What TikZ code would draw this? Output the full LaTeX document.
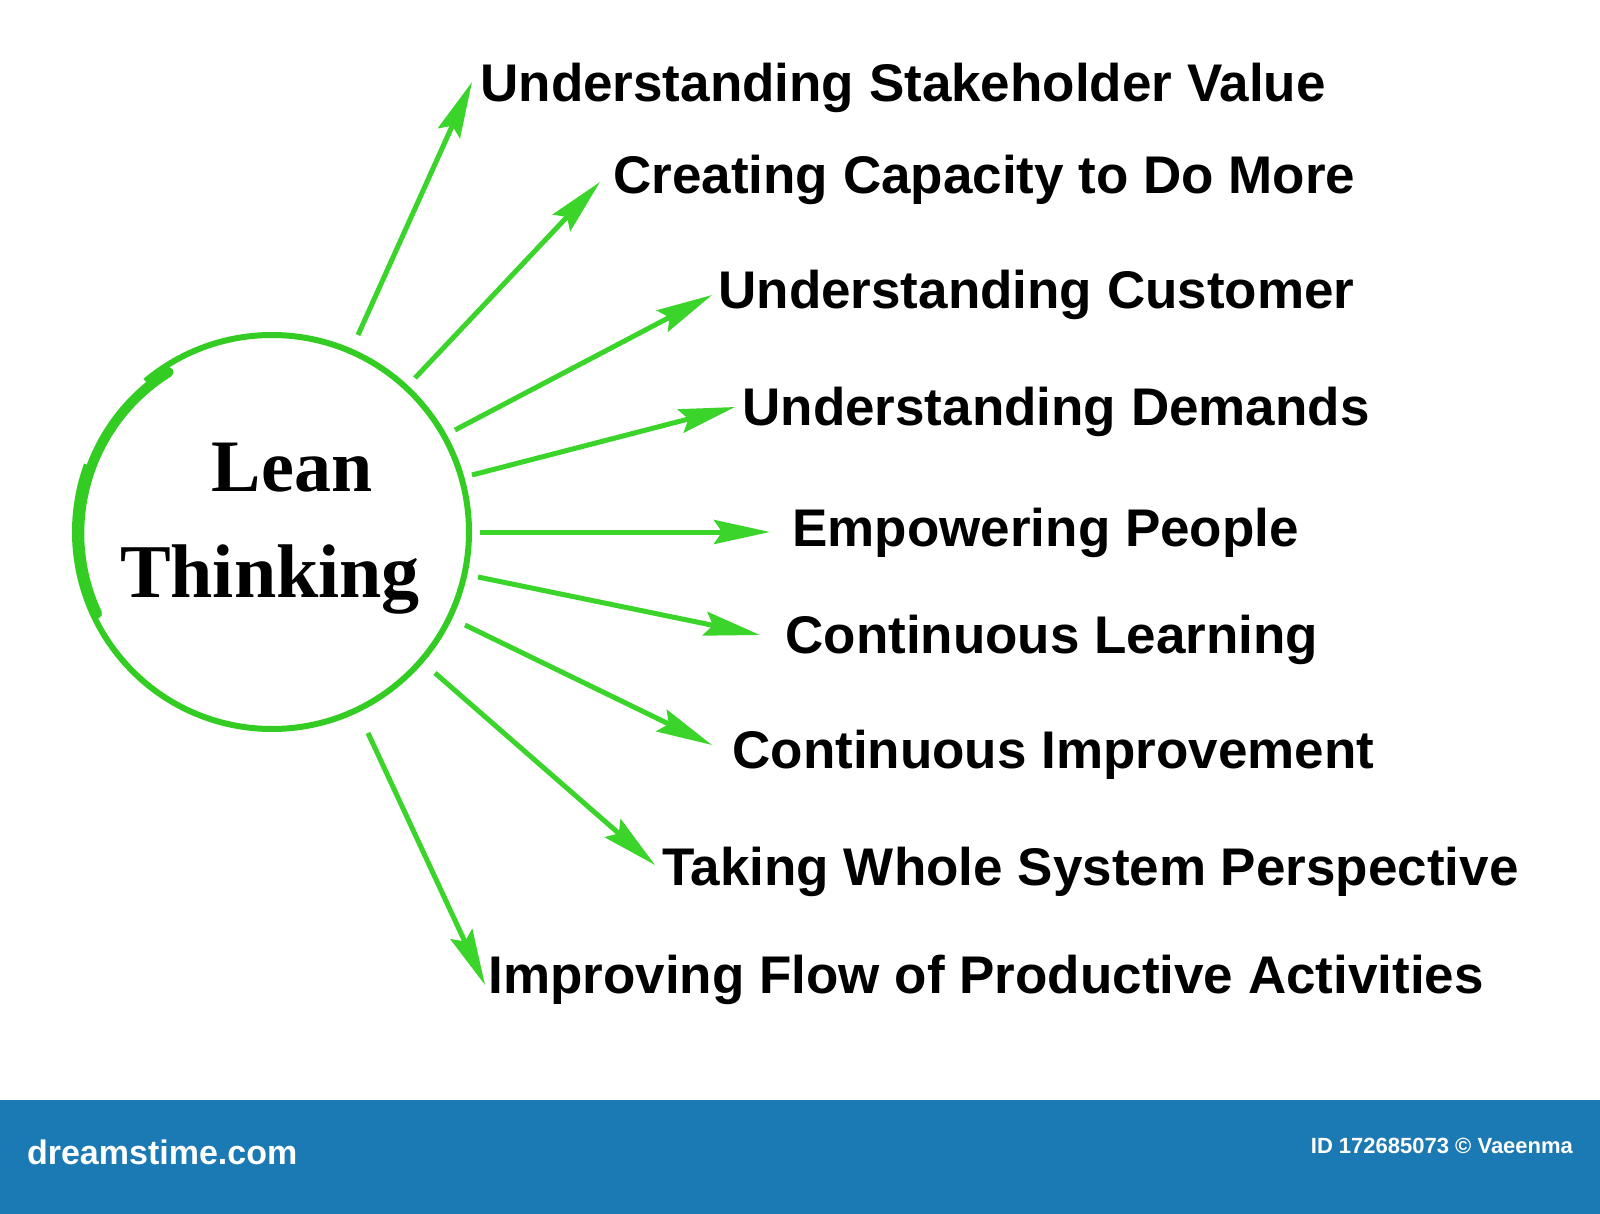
\documentclass[tikz,border=0pt]{standalone}
\usepackage{fontspec}
\setmainfont{Liberation Sans}
\newfontfamily\serifb{Liberation Serif}
\usetikzlibrary{arrows.meta}
\definecolor{lg}{HTML}{33CC22}
\definecolor{ag}{HTML}{3AD42A}
\definecolor{barblue}{HTML}{1B79B3}
\tikzset{
 arr/.style={draw=ag,line width=2.5pt,-{Stealth[length=28pt,width=12pt,inset=4pt]}},
 lbl/.style={anchor=west,inner sep=0pt,font=\fontsize{26.5}{30}\selectfont\bfseries}
}
\begin{document}
\begin{tikzpicture}[x=0.5pt,y=-0.5pt]
\useasboundingbox (0,0) rectangle (1600,1214);
\fill[white] (0,0) rectangle (1600,1214);
% circle
\coordinate (c) at (272,532);
\draw[lg,line width=3pt] (c) ++(-130:197) arc[start angle=-130,end angle=200,radius=197];
\draw[lg,line width=5pt,line cap=round] (c) ++(155:193) arc[start angle=155,end angle=238,radius=190];
\node[font=\serifb\fontsize{37}{40}\selectfont\bfseries] (lean) at (292,468) {Lean};
\node[font=\serifb\fontsize{38}{40}\selectfont\bfseries] (think) at (270,580) {Thinking};
% labels
\node[lbl] (t1) at (480,88) {Understanding Stakeholder Value};
\node[lbl] (t2) at (613,180) {Creating Capacity to Do More};
\node[lbl] (t3) at (718,295) {Understanding Customer};
\node[lbl] (t4) at (742,412) {Understanding Demands};
\node[lbl] (t5) at (792,533) {Empowering People};
\node[lbl] (t6) at (785,640) {Continuous Learning};
\node[lbl] (t7) at (732,755) {Continuous Improvement};
\node[lbl] (t8) at (662,872) {Taking Whole System Perspective};
\node[lbl] (t9) at (488,980) {Improving Flow of Productive Activities};
% arrows
\coordinate (s1) at (358,335); \coordinate (e1) at (472,82);
\coordinate (s2) at (415,378); \coordinate (e2) at (600,182);
\coordinate (s3) at (455,430); \coordinate (e3) at (712,295);
\coordinate (s4) at (472,475); \coordinate (e4) at (735,407);
\coordinate (s5) at (480,532); \coordinate (e5) at (770,532);
\coordinate (s6) at (478,577); \coordinate (e6) at (760,635);
\coordinate (s7) at (465,625); \coordinate (e7) at (712,745);
\coordinate (s8) at (435,673); \coordinate (e8) at (655,865);
\coordinate (s9) at (368,733); \coordinate (e9) at (485,985);
\foreach \i in {1,...,9} \draw[arr] (s\i) -- (e\i);
% bottom bar
\fill[barblue] (0,1100) rectangle (1600,1214);
\node[anchor=west,text=white,font=\fontsize{17}{20}\selectfont\bfseries] (dt) at (20,1152) {dreamstime.com};
\node[anchor=east,text=white,font=\fontsize{11}{13}\selectfont\bfseries] (id) at (1580,1146) {ID 172685073 © Vaeenma};
\end{tikzpicture}
\end{document}
